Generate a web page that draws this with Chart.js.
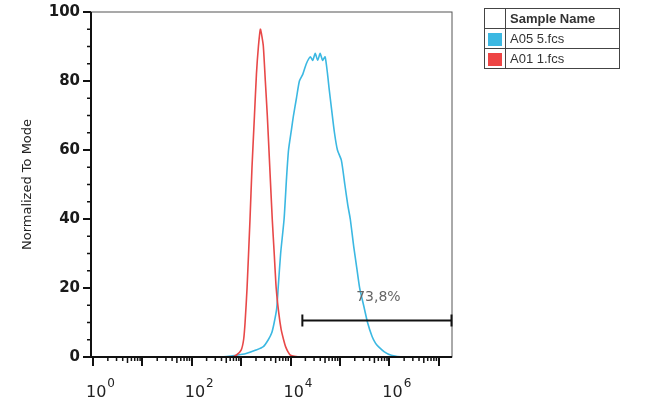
<!DOCTYPE html>
<html><head><meta charset="utf-8">
<script src="https://cdn.jsdelivr.net/npm/chart.js@4/dist/chart.umd.min.js"></script>
<style>
body{margin:0;background:#fff;font-family:"Liberation Sans",Arial,sans-serif}
#wrap{position:relative;width:650px;height:406px}
#leg{position:absolute;left:484px;top:8px;border-collapse:collapse;font-size:13px;color:#333}
#leg td{border:1.5px solid #444;height:19px;padding:0 4px}
#leg .sw{width:17px;padding:0 0 0 3px}
#leg .sw span{display:inline-block;width:14px;height:13px;vertical-align:middle}
</style></head><body>
<div id="wrap"><canvas id="c" width="650" height="406"></canvas>
<table id="leg">
<tr><td class="sw"></td><td style="font-weight:bold;width:105px">Sample Name</td></tr>
<tr><td class="sw"><span style="background:#3bb8e2"></span></td><td>A05 5.fcs</td></tr>
<tr><td class="sw"><span style="background:#ee4444"></span></td><td>A01 1.fcs</td></tr>
</table></div>
<script>
// x values are log10 of fluorescence
const blueX=[-0.05,1,2,2.6,2.9,3.1,3.3,3.45,3.55,3.62,3.67,3.72,3.75,3.8,3.87,3.92,3.96,4.02,4.06,4.12,4.18,4.25,4.32,4.4,4.45,4.5,4.55,4.6,4.65,4.7,4.75,4.78,4.83,4.89,4.95,5.03,5.1,5.16,5.21,5.28,5.34,5.4,5.48,5.56,5.65,5.72,5.78,5.9,6.04,6.3,7,7.27];
const blueY=[0,0,0,0,0.5,1,2,3,5,7,10,14,20,30,40,52,60,66,70,75,80,82,85,87,86,88,86,88,86,87,82,78,72,65,60,57,50,44,40,32,26,20,15,10,6,4,3,1.5,0.5,0,0,0];
const redX=[-0.05,2,2.8,2.9,3.0,3.05,3.08,3.12,3.18,3.22,3.27,3.31,3.35,3.39,3.42,3.45,3.49,3.53,3.58,3.63,3.67,3.71,3.76,3.81,3.86,3.9,3.95,4.0,4.08,4.2,5,6.3];
const redY=[0,0,0,0.5,2,5,10,20,40,55,70,82,90,95,93,90,80,70,55,40,30,20,13,8,5,3,1.5,0.5,0.2,0,0,0];
const gateRange=[4.24,7.26];
const gateLevel=10.6;
const gateLabel="73,8%";
const xMajor=[0,1,2,3,4,5,6,7];
const xLabelExp=[0,2,4,6];
const yMinor=[5,10,15,25,30,35,45,50,55,65,70,75,85,90,95];

const pts=(xs,ys)=>xs.map((x,i)=>({x,y:ys[i]}));
const extras={id:'extras',afterDraw(ch){
  const c=ch.ctx,a=ch.chartArea,xs=ch.scales.x,ys=ch.scales.y;
  c.save();
  c.strokeStyle='#555';c.lineWidth=1;c.strokeRect(a.left,a.top,a.right-a.left,a.bottom-a.top);
  c.strokeStyle='#111';c.lineWidth=2;
  c.beginPath();c.moveTo(a.left,a.top);c.lineTo(a.left,a.bottom);c.lineTo(a.right,a.bottom);c.stroke();
  c.lineWidth=1.5;c.beginPath();
  for(let n=-1;n<8;n++)for(let k=2;k<10;k++){const v=n+Math.log10(k);if(v<xs.min||v>xs.max)continue;const p=xs.getPixelForValue(v);c.moveTo(p,a.bottom);c.lineTo(p,a.bottom+(k==5?6:4));}
  yMinor.forEach(v=>{const p=ys.getPixelForValue(v);c.moveTo(a.left,p);c.lineTo(a.left-4,p);});
  c.stroke();
  c.fillStyle='#222';c.textBaseline='alphabetic';
  xLabelExp.forEach(e=>{const p=xs.getPixelForValue(e);c.font='16px "DejaVu Sans"';c.textAlign='left';c.fillText('10',p-7,397);const w=c.measureText('10').width;c.font='12px "DejaVu Sans"';c.fillText(String(e),p-6+w,387);});
  const g1=xs.getPixelForValue(gateRange[0]),g2=xs.getPixelForValue(gateRange[1]),gy=ys.getPixelForValue(gateLevel);
  c.strokeStyle='#111';c.lineWidth=2;c.beginPath();c.moveTo(g1,gy);c.lineTo(g2,gy);c.moveTo(g1,gy-6);c.lineTo(g1,gy+6);c.moveTo(g2,gy-6);c.lineTo(g2,gy+6);c.stroke();
  c.fillStyle='#666';c.font='14px "DejaVu Sans"';c.textAlign='center';
  c.fillText(gateLabel,xs.getPixelForValue(5.78),ys.getPixelForValue(16.3));
  c.restore();
}};
new Chart(document.getElementById('c'),{type:'line',
 data:{datasets:[
  {data:pts(redX,redY),borderColor:'#e84848',borderWidth:1.6,pointRadius:0,tension:0.2},
  {data:pts(blueX,blueY),borderColor:'#3bb8e2',borderWidth:1.6,pointRadius:0,tension:0.2}]},
 options:{responsive:false,animation:false,events:[],
  layout:{padding:{left:16,right:198,top:9,bottom:0}},
  plugins:{legend:{display:false},tooltip:{enabled:false}},
  scales:{
   x:{type:'linear',min:-0.04,max:7.27,afterBuildTicks:s=>{s.ticks=xMajor.map(v=>({value:v}));},
      afterFit:s=>{s.height=49;},
      grid:{drawOnChartArea:false,tickLength:9,color:'#111',lineWidth:2},border:{display:false},
      ticks:{callback:()=>'',autoSkip:false}},
   y:{min:0,max:100,afterFit:s=>{s.width=75;},
      grid:{drawOnChartArea:false,tickLength:8,color:'#111',lineWidth:2},border:{display:false},
      ticks:{stepSize:20,color:'#1a1a1a',font:{size:15,family:'DejaVu Sans',weight:'bold'},padding:3},
      title:{display:true,text:'Normalized To Mode',color:'#222',font:{size:13,family:'DejaVu Sans'},padding:{bottom:6}}}
  }},
 plugins:[extras]});
</script></body></html>
